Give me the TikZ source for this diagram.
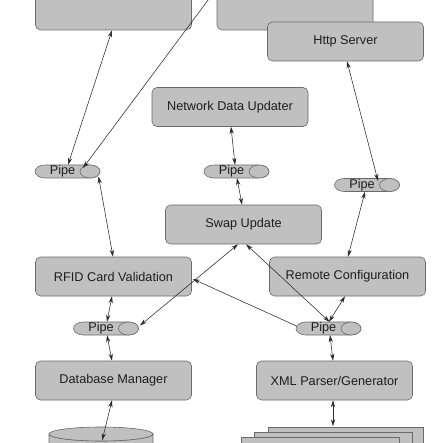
\documentclass[tikz,border=0pt]{standalone}
\usepackage{fontspec}
\setmainfont{Liberation Sans}
\usetikzlibrary{arrows.meta,calc,shapes.geometric}
\definecolor{boxfill}{HTML}{C0C0C0}
\definecolor{boxline}{HTML}{6A6A6A}
\definecolor{linkcol}{HTML}{2A2A2A}
\definecolor{txtcol}{HTML}{1E1E1E}
\tikzset{
  procbox/.style={rectangle, rounded corners=5pt, fill=boxfill, draw=boxline, line width=0.6pt,
    minimum width=156pt, minimum height=39pt, inner sep=0pt, text=txtcol,
    font=\fontsize{12.7}{14}\selectfont},
  pipenode/.style={ellipse, minimum width=65pt, minimum height=13pt, inner sep=0pt},
  pipeshape/.style={fill=boxfill, draw=boxline, line width=0.6pt},
  pipetext/.style={inner sep=0pt, text=txtcol, font=\fontsize{12.7}{14}\selectfont},
  link/.style={draw=linkcol, line width=0.55pt, {Stealth[length=7pt,width=4.2pt]}-{Stealth[length=7pt,width=4.2pt]}},
  linkone/.style={draw=linkcol, line width=0.55pt, -{Stealth[length=7pt,width=4.2pt]}},
  shapefill/.style={fill=boxfill, draw=boxline, line width=0.6pt}
}
\newcommand\pipeat[3]{%
  \filldraw[pipeshape] (#2-22.5,#3+6.5) arc[start angle=90,end angle=270,x radius=10,y radius=6.5]
     -- (#2+22.5,#3-6.5) arc[start angle=-90,end angle=90,x radius=10,y radius=6.5] -- cycle;
  \draw[pipeshape] (#2+22.5,#3) ellipse[x radius=10,y radius=6.5];
  \node[pipenode] (#1) at (#2,#3) {};
  \node[pipetext] at (#2-5,#3) {Pipe};
}
\begin{document}
\begin{tikzpicture}[x=1pt,y=1pt]
\useasboundingbox (0,0) rectangle (443,-443);
\clip (0,0) rectangle (443,-443);
\fill[white] (0,0) rectangle (443,-443);

% boxes
\node[procbox] (tl) at (113.5,-10.5) {};
\node[procbox] (tr) at (295,-10.5) {};
\node[procbox] (http) at (345.5,-41.5) {Http Server};
\node[procbox] (ndu) at (230,-107) {Network Data Updater};
\node[procbox] (swap) at (243.5,-224.5) {Swap Update};
\node[procbox] (rfid) at (113.5,-276.5) {RFID Card Validation};
\node[procbox] (remote) at (347.5,-276.5) {Remote Configuration};
\node[procbox] (dbm) at (113.5,-380.5) {Database Manager};
\node[procbox] (xml) at (334.5,-380.5) {XML Parser/Generator};

% pipes
\pipeat{p1}{67.5}{-171.5}
\pipeat{p2}{236.5}{-171.5}
\pipeat{p3}{367}{-185}
\pipeat{p4}{106}{-328.5}
\pipeat{p5}{328.5}{-328.5}

% database cylinder (bottom, cut off)
\filldraw[shapefill] (49,-434) -- (49,-460) -- (153,-460) -- (153,-434)
   arc[start angle=0,end angle=-180,x radius=52,y radius=7];
\filldraw[shapefill] (101,-434) ellipse[x radius=52,y radius=7];
\node[inner sep=0pt] (db) at (102,-441) {};

% stacked documents (bottom, cut off)
\filldraw[shapefill] (268,-427) rectangle (423,-460);
\filldraw[shapefill] (254,-432) rectangle (412,-460);
\filldraw[shapefill] (241,-437) rectangle (399,-460);
\node[inner sep=0pt] (docs) at (333,-427) {};

\coordinate (above) at (223,20);

% connectors
\draw[link] ([xshift=-1.5pt]tl.south) -- ([xshift=0.5pt]p1.north);
\draw[linkone] (above) -- ($(p1.center)+(15.5,3.5)$);
\draw[link] ($(p1.center)+(31,-5)$) -- ([xshift=-0.5pt]rfid.north);
\draw[link] ([xshift=1pt]ndu.south) -- ([xshift=-1.5pt]p2.north);
\draw[link] ([xshift=0.5pt]p2.south) -- ([xshift=-1.5pt]swap.north);
\draw[link] ([xshift=1.5pt]http.south) -- ($(p3.center)+(11,4)$);
\draw[link] ([xshift=-2pt]p3.south) -- ([xshift=0.5pt]remote.north);
\draw[link] ([xshift=-5.5pt]swap.south) -- ($(p4.center)+(34,3)$);
\draw[link] ([xshift=2.5pt]swap.south) -- ([xshift=1pt]p5.north);
\draw[linkone] ($(p5.center)+(-32,2.5)$) -- ($(rfid.east)+(1,-2.5)$);
\draw[link] ([xshift=-2.5pt]remote.south) -- ([xshift=0.5pt]p5.north);
\draw[link] ([xshift=1.5pt]p5.south) -- ([xshift=-1.5pt]xml.north);
\draw[link] ([xshift=-1.5pt]rfid.south) -- ([xshift=1pt]p4.north);
\draw[link] ([xshift=1pt]p4.south) -- ([xshift=-1.5pt]dbm.north);
\draw[link] ([xshift=-1.5pt]dbm.south) -- (db);
\draw[link] ([xshift=-1.5pt]xml.south) -- (docs);
\end{tikzpicture}
\end{document}
